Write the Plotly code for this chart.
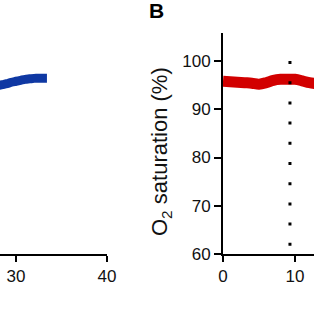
import plotly.graph_objects as go

W = H = 314

# Panel A (partially visible) - blue trace
a_x = [28.0, 28.5, 29.0, 29.5, 30.0, 30.5, 31.0, 31.5, 32.0, 32.5, 33.0, 33.4]
a_y = [94.9, 95.1, 95.3, 95.6, 95.8, 96.0, 96.2, 96.3, 96.4, 96.4, 96.4, 96.4]
a_ticks = [10, 20, 30, 40]

# Panel B - red trace
b_x = [0, 1, 2, 3, 4, 5, 6, 7, 8, 9, 10, 11, 12, 13]
b_y = [95.8, 95.7, 95.6, 95.5, 95.4, 95.2, 95.5, 96.0, 96.2, 96.2, 96.2, 95.9, 95.5, 95.3]
b_xticks = [0, 10, 20]
b_yticks = [60, 70, 80, 90, 100]

# Event marker (vertical dotted line)
event_x = [9.3, 9.3]
event_y = [100, 61]

FONT = "Liberation Sans, Arial, sans-serif"

fig = go.Figure()
fig.add_trace(go.Scatter(x=a_x, y=a_y, mode="lines", xaxis="x", yaxis="y",
                         line=dict(color="#0f38a3", width=9, shape="spline"),
                         showlegend=False, hoverinfo="skip"))
fig.add_trace(go.Scatter(x=b_x, y=b_y, mode="lines", xaxis="x2", yaxis="y2",
                         line=dict(color="#d20000", width=11, shape="spline"),
                         showlegend=False, hoverinfo="skip"))
fig.add_trace(go.Scatter(x=event_x, y=event_y, mode="lines", xaxis="x2", yaxis="y2",
                         line=dict(color="black", width=3, dash="3px,17.2px"),
                         showlegend=False, hoverinfo="skip"))

yrange = [60, 60 + (254 - 33) / 4.825]
ydom = [(314 - 254) / 314, (314 - 33) / 314]

axis_common = dict(showline=True, linecolor="black", linewidth=2,
                   ticks="outside", tickwidth=2, tickcolor="black",
                   showgrid=False, zeroline=False, automargin=False)

fig.update_layout(
    width=W, height=H,
    margin=dict(l=0, r=0, t=0, b=0, pad=0),
    paper_bgcolor="white", plot_bgcolor="white",
    font=dict(family=FONT, size=17, color="#111111"),
    xaxis=dict(domain=[0, 107 / 314], range=[40 - 107 / 9.1, 40],
               tickvals=a_ticks, ticklen=6, anchor="y", **axis_common),
    yaxis=dict(domain=ydom, range=yrange, visible=False, anchor="x",
               automargin=False),
    xaxis2=dict(domain=[223 / 314, 1], range=[0, (314 - 223) / 7.2],
                tickvals=b_xticks, ticklen=6, anchor="y2", **axis_common),
    yaxis2=dict(domain=ydom, range=yrange, tickvals=b_yticks, ticklen=7,
                anchor="x2", **axis_common),
    annotations=[
        dict(text="<b>B</b>", x=156 / 314, y=1 - 11 / 314, xref="paper", yref="paper",
             showarrow=False, font=dict(size=21, color="black", family=FONT),
             xanchor="center", yanchor="middle"),
        dict(text="O<sub>2</sub> saturation (%)", x=161 / 314, y=1 - 152 / 314,
             xref="paper", yref="paper", showarrow=False, textangle=-90,
             font=dict(size=22, color="#111111", family=FONT),
             xanchor="center", yanchor="middle"),
    ],
)

fig.write_html("out.html")
